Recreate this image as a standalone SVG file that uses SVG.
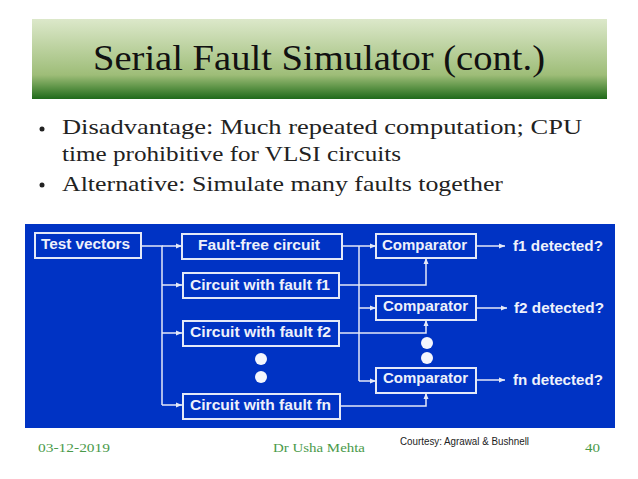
<svg xmlns="http://www.w3.org/2000/svg" width="638" height="479" viewBox="0 0 638 479">
<style>
.serif{font-family:"Liberation Serif","DejaVu Serif",serif}
.body{font-size:21px;fill:#222}
.foot{font-size:13.5px;fill:#4a9a4a}
.box{fill:#0033c4;stroke:#e4e9f8;stroke-width:2}
.lbl{font-family:"Liberation Sans",Arial,sans-serif;font-weight:bold;font-size:14px;fill:#eef1fb}
.line{fill:none;stroke:#e4e9f8;stroke-width:1.5}
.dot{fill:#f4f6fd}
</style>
<defs>
<linearGradient id="g" x1="0" y1="0" x2="0" y2="1">
<stop offset="0" stop-color="#dce8ca"/>
<stop offset="0.7" stop-color="#9ebd78"/>
<stop offset="0.85" stop-color="#5f9548"/>
<stop offset="1" stop-color="#1f6a1a"/>
</linearGradient>
<marker id="a" markerUnits="userSpaceOnUse" markerWidth="7" markerHeight="7" refX="6" refY="3.5" orient="auto"><path d="M0 1L6 3.5L0 6Z" fill="#e4e9f8"/></marker>
</defs>
<rect width="638" height="479" fill="#fff"/>
<g id="banner"><rect x="32" y="19" width="575" height="80" fill="url(#g)"/>
<text class="serif" x="93" y="70" font-size="36" fill="#111" textLength="452" lengthAdjust="spacingAndGlyphs">Serial Fault Simulator (cont.)</text></g>
<g id="bullets">
<circle cx="42" cy="129" r="2.5" fill="#222"/>
<text class="serif body" x="62" y="134" textLength="520" lengthAdjust="spacingAndGlyphs">Disadvantage: Much repeated computation; CPU</text>
<text class="serif body" x="62" y="161" textLength="339" lengthAdjust="spacingAndGlyphs">time prohibitive for VLSI circuits</text>
<circle cx="42" cy="185" r="2.5" fill="#222"/>
<text class="serif body" x="62" y="191" textLength="441" lengthAdjust="spacingAndGlyphs">Alternative: Simulate many faults together</text>
</g>
<rect id="panel" x="25" y="224" width="590" height="204" fill="#0033c4"/>
<g id="connectors">
<path class="line" d="M141 246H162V405" />
<path class="line" marker-end="url(#a)" d="M162 246H182"/>
<path class="line" marker-end="url(#a)" d="M162 285H182"/>
<path class="line" marker-end="url(#a)" d="M162 333H182"/>
<path class="line" marker-end="url(#a)" d="M162 405H182"/>
<path class="line" marker-end="url(#a)" d="M342 246H376"/>
<path class="line" d="M359 246V381"/>
<path class="line" marker-end="url(#a)" d="M359 308H376"/>
<path class="line" marker-end="url(#a)" d="M359 381H376"/>
<path class="line" marker-end="url(#a)" d="M339 285H426V258"/>
<path class="line" marker-end="url(#a)" d="M339 333H426V320"/>
<path class="line" marker-end="url(#a)" d="M340 406H426V393"/>
<path class="line" marker-end="url(#a)" d="M476 246H505"/>
<path class="line" marker-end="url(#a)" d="M476 308H507"/>
<path class="line" marker-end="url(#a)" d="M476 380H505"/>
</g>
<g id="test-vectors"><rect class="box" x="35" y="233" width="106" height="25"/><text class="lbl" x="41" y="249" textLength="89" lengthAdjust="spacingAndGlyphs">Test vectors</text></g>
<g id="fault-free"><rect class="box" x="182" y="234" width="160" height="25"/><text class="lbl" x="198" y="250" textLength="122" lengthAdjust="spacingAndGlyphs">Fault-free circuit</text></g>
<g id="fault-f1"><rect class="box" x="183" y="273" width="156" height="25"/><text class="lbl" x="190" y="290" textLength="140" lengthAdjust="spacingAndGlyphs">Circuit with fault f1</text></g>
<g id="fault-f2"><rect class="box" x="183" y="321" width="156" height="25"/><text class="lbl" x="190" y="337" textLength="141" lengthAdjust="spacingAndGlyphs">Circuit with fault f2</text></g>
<g id="fault-fn"><rect class="box" x="183" y="394" width="157" height="25"/><text class="lbl" x="190" y="410" textLength="141" lengthAdjust="spacingAndGlyphs">Circuit with fault fn</text></g>
<g id="comparator-1"><rect class="box" x="376" y="234" width="100" height="24"/><text class="lbl" x="382" y="250" textLength="85" lengthAdjust="spacingAndGlyphs">Comparator</text></g>
<g id="comparator-2"><rect class="box" x="376" y="296" width="100" height="24"/><text class="lbl" x="383" y="311" textLength="85" lengthAdjust="spacingAndGlyphs">Comparator</text></g>
<g id="comparator-n"><rect class="box" x="376" y="368" width="100" height="25"/><text class="lbl" x="383" y="383" textLength="85" lengthAdjust="spacingAndGlyphs">Comparator</text></g>
<g id="outputs">
<text class="lbl" x="513" y="251" textLength="90" lengthAdjust="spacingAndGlyphs">f1 detected?</text>
<text class="lbl" x="514" y="313" textLength="90" lengthAdjust="spacingAndGlyphs">f2 detected?</text>
<text class="lbl" x="513" y="385" textLength="90" lengthAdjust="spacingAndGlyphs">fn detected?</text>
</g>
<g id="dots-left"><circle class="dot" cx="261" cy="359" r="6"/><circle class="dot" cx="261" cy="377" r="6"/></g>
<g id="dots-right"><circle class="dot" cx="427" cy="343" r="6"/><circle class="dot" cx="427" cy="358" r="6"/></g>
<g id="footer">
<text class="serif foot" x="38" y="452" textLength="72" lengthAdjust="spacingAndGlyphs">03-12-2019</text>
<text class="serif foot" x="273" y="452" textLength="92" lengthAdjust="spacingAndGlyphs">Dr Usha Mehta</text>
<text x="400" y="445" font-family="Liberation Sans,Arial,sans-serif" font-size="10.5" fill="#222" textLength="129" lengthAdjust="spacingAndGlyphs">Courtesy: Agrawal &amp; Bushnell</text>
<text class="serif foot" x="585" y="452" textLength="15" lengthAdjust="spacingAndGlyphs">40</text>
</g>
</svg>
